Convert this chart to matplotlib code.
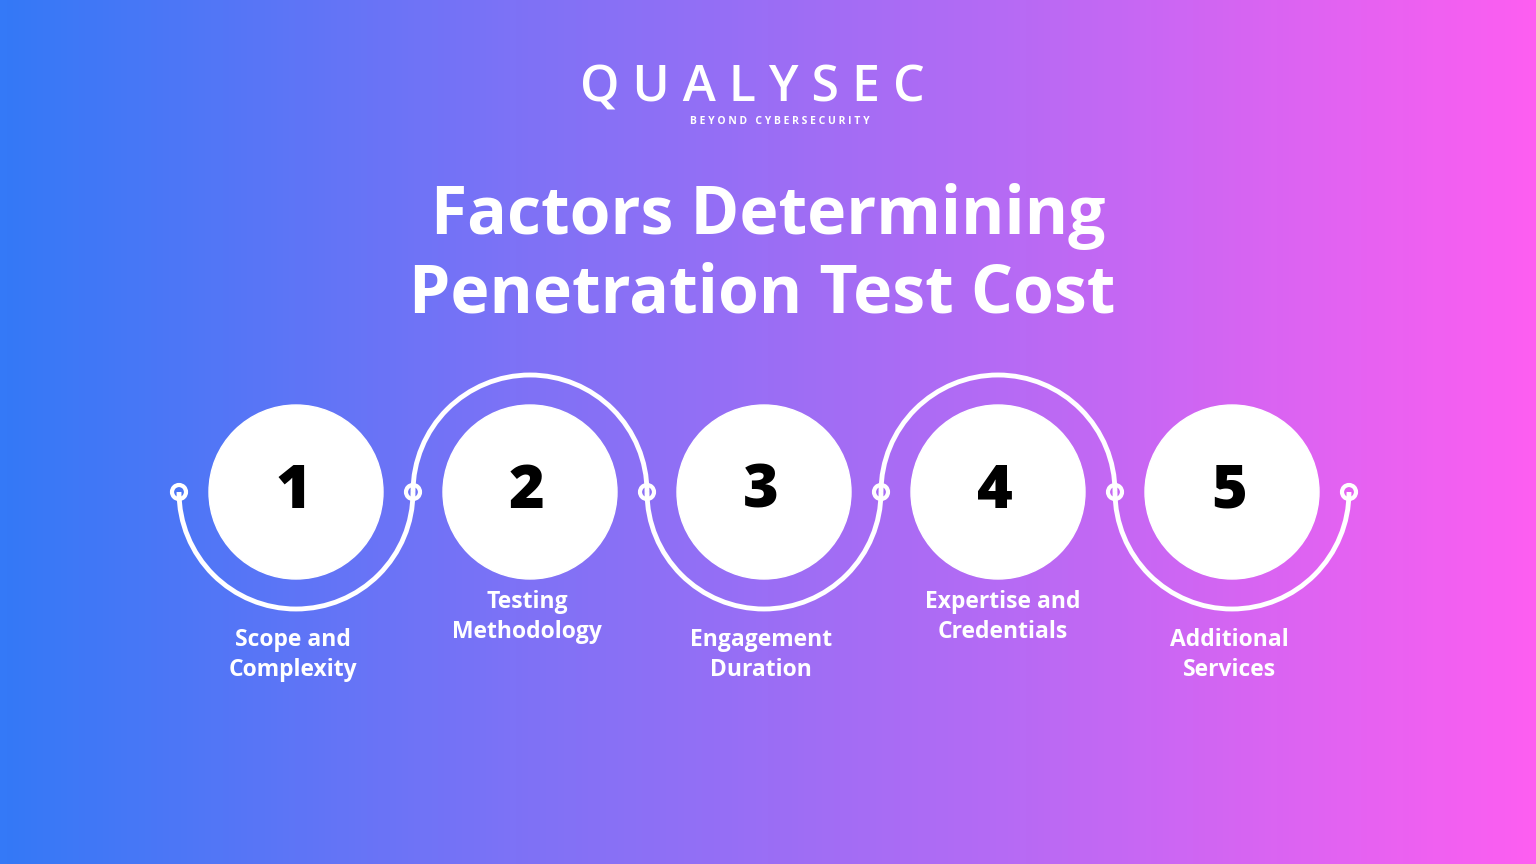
import numpy as np
import matplotlib
matplotlib.use('agg')
import matplotlib.pyplot as plt
from matplotlib.colors import LinearSegmentedColormap
from matplotlib.patches import Circle, Arc

steps = ['1', '2', '3', '4', '5']
labels = ['Scope and\nComplexity', 'Testing\nMethodology', 'Engagement\nDuration',
          'Expertise and\nCredentials', 'Additional\nServices']
arc_below = [True, False, True, False, True]

W, H = 1536, 864
fig = plt.figure(figsize=(15.36, 8.64), dpi=100)
ax = fig.add_axes([0, 0, 1, 1])
ax.set_xlim(0, W)
ax.set_ylim(H, 0)
ax.axis('off')

# fondo degradado
cmap = LinearSegmentedColormap.from_list('bg', ['#3479f7', '#7d72f6', '#b86af4', '#fd5ef1'])
grad = np.linspace(0, 1, 512)[None, :]
ax.imshow(grad, cmap=cmap, extent=[0, W, H, 0], aspect='auto', zorder=0)

font = 'Open Sans'
# logo
ax.text(752, 88, 'Q U A L Y S E C', color='white', fontsize=36, family=font,
        fontweight='semibold', ha='center', va='center', zorder=3)
ax.text(780, 122, 'B E Y O N D   C Y B E R S E C U R I T Y',
        color='white', fontsize=7.5, family=font, fontweight='bold',
        ha='center', va='center', zorder=3)

# titulo
ax.text(768, 216, 'Factors Determining', color='white', fontsize=47.5, family=font,
        fontweight='bold', ha='center', va='center', zorder=3)
ax.text(762, 295, 'Penetration Test Cost', color='white', fontsize=47.5, family=font,
        fontweight='bold', ha='center', va='center', zorder=3)

x0, dx, yc = 296, 234, 492
r_in, r_arc = 87, 117
for i, (s, lab, below) in enumerate(zip(steps, labels, arc_below)):
    cx = x0 + dx * i
    ax.add_patch(Circle((cx, yc), r_in, color='white', zorder=3))
    ax.text(cx - 3, yc, s, fontsize=44, family=font, fontweight='heavy',
            color='black', ha='center', va='center', zorder=4)
    # y invertido: theta1/theta2 en coordenadas de datos
    if below:
        ax.add_patch(Arc((cx, yc), 2 * r_arc, 2 * r_arc, theta1=0, theta2=180,
                         color='white', lw=3.5, zorder=2))
        ty = 655
    else:
        ax.add_patch(Arc((cx, yc), 2 * r_arc, 2 * r_arc, theta1=180, theta2=360,
                         color='white', lw=3.5, zorder=2))
        ty = 617
    ax.text(cx - 3 + (8 if i == 3 else 0), ty, lab, fontsize=16.5, family=font,
            fontweight='bold', color='white', ha='center', va='center',
            linespacing=1.3, zorder=3)

for i in range(len(steps) + 1):
    px = x0 - r_arc + dx * i
    ax.add_patch(Circle((px, yc), 7, facecolor='none', edgecolor='white', lw=3, zorder=3))

fig.savefig('out.png', dpi=100)
